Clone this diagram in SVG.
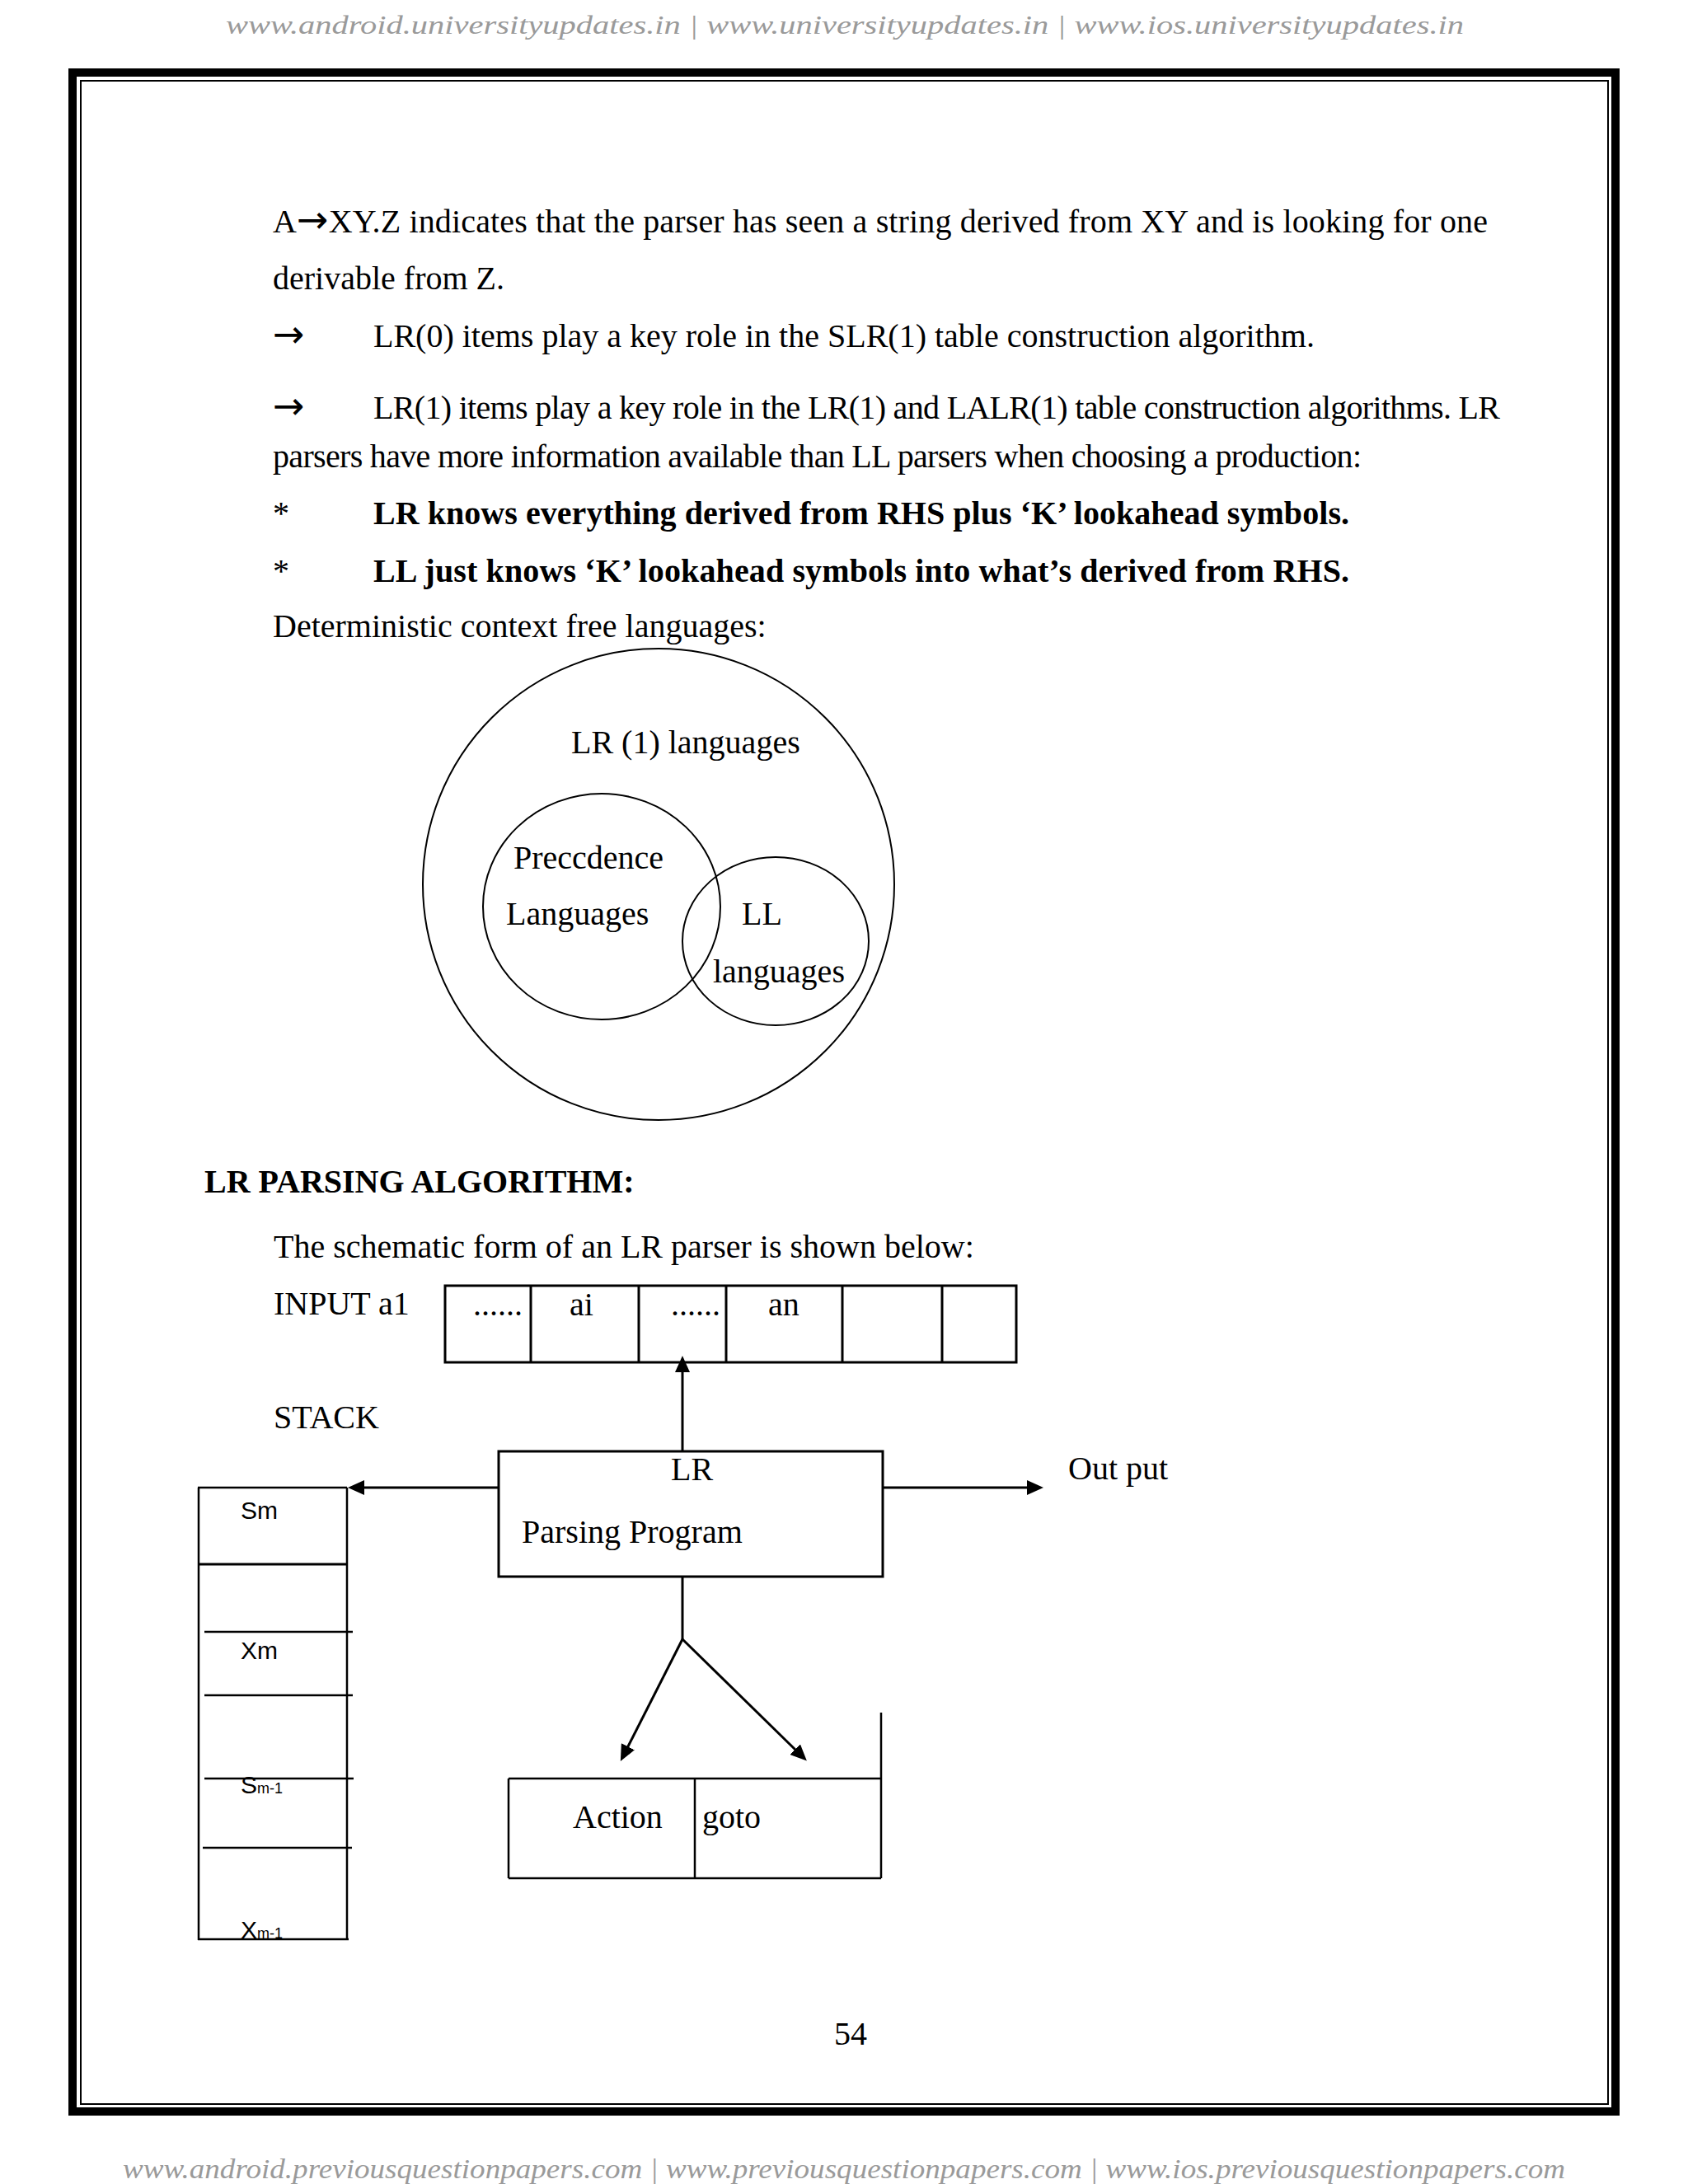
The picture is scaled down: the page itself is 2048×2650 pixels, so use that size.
<svg xmlns="http://www.w3.org/2000/svg" width="2048" height="2650" viewBox="0 0 2048 2650">
<style>
  .t { font-family: "Liberation Serif", "Times New Roman", serif; font-size: 40px; fill: #000; }
  .b { font-weight: bold; }
  .ar { font-family: "DejaVu Sans", sans-serif; font-size: 46px; }
  .s { font-family: "Liberation Sans", Arial, sans-serif; font-size: 30px; fill: #000; }
  .sub { font-size: 18px; }
  .wm { font-family: "Liberation Serif", "Times New Roman", serif; font-style: italic; fill: #9a9a9a; }
  .ln { stroke: #000; fill: none; }
  .c { fill: none; stroke: #000; stroke-width: 2; }
</style>
<defs>
  <marker id="ah" viewBox="0 0 20 18" refX="2" refY="9" markerWidth="20" markerHeight="18" markerUnits="userSpaceOnUse" orient="auto">
    <path d="M0,0 L20,9 L0,18 z" fill="#000"/>
  </marker>
</defs>
<rect width="2048" height="2650" fill="#fff"/>

<!-- watermarks -->
<text class="wm" x="274" y="41" font-size="32" textLength="1502" lengthAdjust="spacingAndGlyphs">www.android.universityupdates.in | www.universityupdates.in | www.ios.universityupdates.in</text>
<text class="wm" x="149" y="2643" font-size="34" textLength="1750" lengthAdjust="spacingAndGlyphs">www.android.previousquestionpapers.com | www.previousquestionpapers.com | www.ios.previousquestionpapers.com</text>

<!-- page frame -->
<g id="frame">
  <rect x="88" y="88" width="1872" height="2474" fill="none" stroke="#000" stroke-width="10"/>
  <rect x="98" y="98" width="1853" height="2455" fill="none" stroke="#000" stroke-width="2"/>
</g>

<!-- body text -->
<g id="body-text">
  <text class="t" x="331" y="282" textLength="1474" lengthAdjust="spacing">A<tspan class="ar">→</tspan>XY.Z indicates that the parser has seen a string derived from XY and is looking for one</text>
  <text class="t" x="331" y="351">derivable from Z.</text>
  <text class="t ar" x="331" y="421">→</text>
  <text class="t" x="453" y="421">LR(0) items play a key role in the SLR(1) table construction algorithm.</text>
  <text class="t ar" x="331" y="508">→</text>
  <text class="t" x="453" y="508" textLength="1367" lengthAdjust="spacing">LR(1) items play a key role in the LR(1) and LALR(1) table construction algorithms. LR</text>
  <text class="t" x="331" y="567" textLength="1321" lengthAdjust="spacing">parsers have more information available than LL parsers when choosing a production:</text>
  <text class="t" x="331" y="636">*</text>
  <text class="t b" x="453" y="636" textLength="1184" lengthAdjust="spacing">LR knows everything derived from RHS plus ‘K’ lookahead symbols.</text>
  <text class="t" x="331" y="706">*</text>
  <text class="t b" x="453" y="706" textLength="1184" lengthAdjust="spacing">LL just knows ‘K’ lookahead symbols into what’s derived from RHS.</text>
  <text class="t" x="331" y="773">Deterministic context free languages:</text>
</g>

<!-- Venn diagram -->
<g id="lr1-languages">
  <circle class="c" cx="799" cy="1073" r="286"/>
  <text class="t" x="693" y="914">LR (1) languages</text>
</g>
<g id="precedence-languages">
  <ellipse class="c" cx="730" cy="1100" rx="144" ry="137"/>
  <text class="t" x="623" y="1054">Preccdence</text>
  <text class="t" x="614" y="1122">Languages</text>
</g>
<g id="ll-languages">
  <ellipse class="c" cx="941" cy="1142" rx="113" ry="102"/>
  <text class="t" x="900" y="1122">LL</text>
  <text class="t" x="865" y="1192">languages</text>
</g>

<!-- LR parsing algorithm -->
<g id="section-heading">
  <text class="t b" x="248" y="1447">LR PARSING ALGORITHM:</text>
  <text class="t" x="332" y="1526">The schematic form of an LR parser is shown below:</text>
  <text class="t" x="332" y="1595">INPUT a1</text>
  <text class="t" x="332" y="1733">STACK</text>
</g>

<g id="input-tape">
  <rect x="540" y="1560" width="693" height="93" fill="none" stroke="#000" stroke-width="3"/>
  <path class="ln" stroke-width="3" d="M644,1560 V1653 M775,1560 V1653 M881,1560 V1653 M1022,1560 V1653 M1143,1560 V1653"/>
  <text class="t" x="574" y="1596">......</text>
  <text class="t" x="691" y="1596">ai</text>
  <text class="t" x="814" y="1596">......</text>
  <text class="t" x="932" y="1596">an</text>
</g>

<g id="parsing-program">
  <rect x="605" y="1761" width="466" height="152" fill="none" stroke="#000" stroke-width="3"/>
  <text class="t" x="814" y="1796">LR</text>
  <text class="t" x="633" y="1872">Parsing Program</text>
</g>

<g id="output">
  <text class="t" x="1296" y="1795">Out put</text>
</g>

<g id="stack">
  <path class="ln" stroke-width="2.5" d="M241,1805 V2354 M421,1805 V2354 M240,1805 H421 M240,2353 H423"/>
  <path class="ln" stroke-width="3" d="M241,1898 H421"/>
  <path class="ln" stroke-width="2.5" d="M248,1980 H428 M248,2057 H428 M248,2158 H429 M246,2242 H427"/>
  <text class="s" x="292" y="1843">Sm</text>
  <text class="s" x="292" y="2013">Xm</text>
  <text class="s" x="292" y="2176">S<tspan class="sub">m-1</tspan></text>
  <text class="s" x="292" y="2352">X<tspan class="sub">m-1</tspan></text>
</g>

<g id="parsing-table">
  <path class="ln" stroke-width="2.5" d="M617,2158 H1069 M617,2279 H1069 M617,2158 V2279 M843,2158 V2279 M1069,2078 V2279"/>
  <text class="t" x="695" y="2218">Action</text>
  <text class="t" x="852" y="2218">goto</text>
</g>

<g id="connectors" class="ln" stroke-width="3">
  <line x1="828" y1="1761" x2="828" y2="1663" marker-end="url(#ah)"/>
  <line x1="605" y1="1805" x2="440" y2="1805" marker-end="url(#ah)"/>
  <line x1="1071" y1="1805" x2="1248" y2="1805" marker-end="url(#ah)"/>
  <polyline points="828,1913 828,1989" />
  <line x1="828" y1="1989" x2="761" y2="2121" marker-end="url(#ah)"/>
  <line x1="828" y1="1989" x2="966" y2="2124" marker-end="url(#ah)"/>
</g>

<g id="page-number">
  <text class="t" x="1012" y="2481">54</text>
</g>
</svg>
